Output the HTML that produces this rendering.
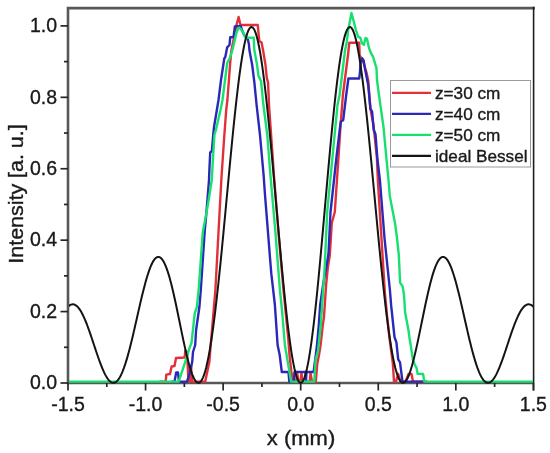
<!DOCTYPE html>
<html><head><meta charset="utf-8"><title>Intensity profile</title>
<style>
html,body{margin:0;padding:0;background:#fff;}
body{width:550px;height:453px;overflow:hidden;}
svg{display:block;font-family:"Liberation Sans",Arial,sans-serif;}
</style></head><body>
<svg width="550" height="453" viewBox="0 0 550 453">
<rect width="550" height="453" fill="#fff"/>
<path d="M68.0,383.0 V8.1 H533.6" fill="none" stroke="#575757" stroke-width="2.6" stroke-linecap="square"/><path d="M68.0,383.0 H533.6" fill="none" stroke="#575757" stroke-width="2.6"/><path d="M533.6,6.8 V390.5" fill="none" stroke="#1e1e1e" stroke-width="1.6"/><line x1="60.5" y1="383.00" x2="68.0" y2="383.00" stroke="#262626" stroke-width="1.7"/><text x="57" y="389.20" font-size="19.5" text-anchor="end" fill="#1a1a1a" stroke="#1a1a1a" stroke-width="0.35">0.0</text><line x1="64.0" y1="347.29" x2="68.0" y2="347.29" stroke="#262626" stroke-width="1.7"/><line x1="60.5" y1="311.58" x2="68.0" y2="311.58" stroke="#262626" stroke-width="1.7"/><text x="57" y="317.78" font-size="19.5" text-anchor="end" fill="#1a1a1a" stroke="#1a1a1a" stroke-width="0.35">0.2</text><line x1="64.0" y1="275.87" x2="68.0" y2="275.87" stroke="#262626" stroke-width="1.7"/><line x1="60.5" y1="240.16" x2="68.0" y2="240.16" stroke="#262626" stroke-width="1.7"/><text x="57" y="246.36" font-size="19.5" text-anchor="end" fill="#1a1a1a" stroke="#1a1a1a" stroke-width="0.35">0.4</text><line x1="64.0" y1="204.45" x2="68.0" y2="204.45" stroke="#262626" stroke-width="1.7"/><line x1="60.5" y1="168.74" x2="68.0" y2="168.74" stroke="#262626" stroke-width="1.7"/><text x="57" y="174.94" font-size="19.5" text-anchor="end" fill="#1a1a1a" stroke="#1a1a1a" stroke-width="0.35">0.6</text><line x1="64.0" y1="133.03" x2="68.0" y2="133.03" stroke="#262626" stroke-width="1.7"/><line x1="60.5" y1="97.32" x2="68.0" y2="97.32" stroke="#262626" stroke-width="1.7"/><text x="57" y="103.52" font-size="19.5" text-anchor="end" fill="#1a1a1a" stroke="#1a1a1a" stroke-width="0.35">0.8</text><line x1="64.0" y1="61.61" x2="68.0" y2="61.61" stroke="#262626" stroke-width="1.7"/><line x1="60.5" y1="25.90" x2="68.0" y2="25.90" stroke="#262626" stroke-width="1.7"/><text x="57" y="32.10" font-size="19.5" text-anchor="end" fill="#1a1a1a" stroke="#1a1a1a" stroke-width="0.35">1.0</text><line x1="68.00" y1="383.0" x2="68.00" y2="390.5" stroke="#262626" stroke-width="1.7"/><text x="68.00" y="411" font-size="19.5" text-anchor="middle" fill="#1a1a1a" stroke="#1a1a1a" stroke-width="0.35">-1.5</text><line x1="106.78" y1="383.0" x2="106.78" y2="387.0" stroke="#262626" stroke-width="1.7"/><line x1="145.57" y1="383.0" x2="145.57" y2="390.5" stroke="#262626" stroke-width="1.7"/><text x="145.57" y="411" font-size="19.5" text-anchor="middle" fill="#1a1a1a" stroke="#1a1a1a" stroke-width="0.35">-1.0</text><line x1="184.35" y1="383.0" x2="184.35" y2="387.0" stroke="#262626" stroke-width="1.7"/><line x1="223.13" y1="383.0" x2="223.13" y2="390.5" stroke="#262626" stroke-width="1.7"/><text x="223.13" y="411" font-size="19.5" text-anchor="middle" fill="#1a1a1a" stroke="#1a1a1a" stroke-width="0.35">-0.5</text><line x1="261.92" y1="383.0" x2="261.92" y2="387.0" stroke="#262626" stroke-width="1.7"/><line x1="300.70" y1="383.0" x2="300.70" y2="390.5" stroke="#262626" stroke-width="1.7"/><text x="300.70" y="411" font-size="19.5" text-anchor="middle" fill="#1a1a1a" stroke="#1a1a1a" stroke-width="0.35">0.0</text><line x1="339.48" y1="383.0" x2="339.48" y2="387.0" stroke="#262626" stroke-width="1.7"/><line x1="378.27" y1="383.0" x2="378.27" y2="390.5" stroke="#262626" stroke-width="1.7"/><text x="378.27" y="411" font-size="19.5" text-anchor="middle" fill="#1a1a1a" stroke="#1a1a1a" stroke-width="0.35">0.5</text><line x1="417.05" y1="383.0" x2="417.05" y2="387.0" stroke="#262626" stroke-width="1.7"/><line x1="455.83" y1="383.0" x2="455.83" y2="390.5" stroke="#262626" stroke-width="1.7"/><text x="455.83" y="411" font-size="19.5" text-anchor="middle" fill="#1a1a1a" stroke="#1a1a1a" stroke-width="0.35">1.0</text><line x1="494.62" y1="383.0" x2="494.62" y2="387.0" stroke="#262626" stroke-width="1.7"/><line x1="533.40" y1="383.0" x2="533.40" y2="390.5" stroke="#262626" stroke-width="1.7"/><text x="533.40" y="411" font-size="19.5" text-anchor="middle" fill="#1a1a1a" stroke="#1a1a1a" stroke-width="0.35">1.5</text><defs><clipPath id="c"><rect x="69.0" y="9.1" width="463.9" height="375.9"/></clipPath></defs><g clip-path="url(#c)" fill="none" stroke-linejoin="round" stroke-linecap="round"><polyline points="160,381.6 165.7,381.6 166.3,374.6 170,374 171.6,366.5 174.5,366 176,358 184.6,357.5 185.3,350.5 187,352 188.5,381.6 190,381.6 191,366 192.2,381.6 205.2,381.6 209.4,361.7 210.7,345 215.4,290 218.5,232 221.5,177 224,140 226.2,110 227.4,100 230.2,63 231.2,51.6 233.5,40 236.5,25 238.6,17 240.5,25 257.8,25 258.5,33 259.3,41 261.6,42.6 263.2,51 265.5,65 266.8,78.2 268.1,82.7 269,105 274,176 278.5,233 283.3,288 288.2,338 289.5,355 291.4,372 293,381.6 296.3,381.6 297,372 298.5,381.6 300.5,381.6 301.5,373 302.5,381.6 309.8,381.6 310.5,373 312,381.6 315.8,381.6 317.3,363.4 319,355 320.6,345 322.8,325 324,316.8 326.1,284.9 327.9,267 329.8,255 331.8,223 334.8,212 338.5,157 340.6,125 342.9,95 348,55 349.3,42.8 359.2,42.8 359.6,55 363.6,63 366.6,72.9 368.2,80.2 370.4,108.7 373.5,125 376.9,158 378,183 381.4,237 384.8,292 387,315 389.5,338 392.8,363 394,381.6 396,381.6 398.2,374 400.5,381.6 405.5,381.6 408.5,374 411.5,374 413,381.6 426,381.6" stroke="#e2303a" stroke-width="2.4"/><polyline points="172,381.6 174.5,381.6 176.2,372.5 178,372.5 179,381.6 187,381.6 190,372 192.2,362 193,352 195.2,345 196.1,330 199.4,307 200.8,290 204.8,230 205.8,220 209,180 209.3,172 210.2,152.5 211.9,151 213.2,135 214.1,126.5 218.5,100 221,80 223.3,65 224.3,58.5 225.3,57 226.6,50.2 227.2,47.3 229.5,45 230.2,37.3 233.5,37 234.9,26.5 240.7,26 242.2,30.6 244.2,35.2 247.8,39.2 248.9,44 249.4,50 252.2,65 254.4,82.7 256.6,105 260,135 263.6,175 264.9,193.5 268.2,235 269.9,256.5 271.3,273.7 273.2,290 274.9,305 277.6,345 279.7,355 281.8,372 288.5,372 289.3,381.6 293.8,381.6 294.5,372 305.5,372 306,381.6 306.5,372 313.6,372 316.8,347 318.8,325 320.2,304.7 323.5,282.2 326.5,266 328.5,253.7 330.5,212 336.5,157 340.3,125 340.9,121.5 343.2,120.2 346.2,95 348.4,78.5 359.3,78.5 360,71.6 360.6,62.3 362.3,58.3 363.6,60.3 364.9,68.2 366.6,76.9 368.2,85 370.4,108.7 372.1,111.5 373.7,130 375.5,134.3 377.5,160 379.9,180 384.5,238 389.9,290 391.2,305.9 394.5,337 396.4,342.3 398.2,359.3 400,362.3 402.5,381.6 426,381.6" stroke="#2a28b8" stroke-width="2.4"/><polyline points="68,381.6 178.7,381.6 185,362.6 189.5,348 191.5,343 194.8,313 196.8,307.5 198.8,288 202.8,232 207,210 211.8,180 212.6,165 213.6,148 214.4,135 215.9,130 220.5,110 222.5,100 227.2,63 229.5,58.5 230.2,57 232.9,48.2 236.3,33.2 238.2,28.6 239.2,27.6 240.9,29.2 242.5,31.2 244.9,35.9 245.5,37.5 253.8,37.7 254.3,50 257.1,65 258.4,75.6 261,80.9 263.4,105 267.3,135 270.4,175 275.4,232 279.9,290 282,310 284.9,345 290,375 291,381.6 314.3,381.6 315.6,359.3 318,350.8 320.8,325 322.2,304.7 324.8,265 327.2,212 332.5,157 337.5,105 339.6,95 345.1,50 346.6,43.3 348.2,30 349.9,21.2 351.5,13 353.7,21.2 355.9,30 358.1,36.7 360.4,37.8 362,43.3 363.8,45 365.5,38 367,38.9 369,48 371,53.2 373.2,57.1 374.5,61.6 375.5,64.9 376.5,68.2 377,80 379.2,96.6 383.5,127 386.1,155 388.5,180 389.8,195.9 395.1,223.7 397,238 398.8,254.9 400.1,282.7 402.7,286.7 404,295 405.1,312.5 408.4,329.7 409.5,338 411,347 412.8,359.3 414.6,364.2 416.5,367.8 417.7,373.9 423.1,374 424.3,381.6 533.4,381.6" stroke="#18e070" stroke-width="2.4"/><polyline points="68.00,306.74 68.78,306.02 69.55,305.42 70.33,304.95 71.10,304.61 71.88,304.39 72.65,304.31 73.43,304.35 74.21,304.53 74.98,304.84 75.76,305.27 76.53,305.84 77.31,306.53 78.08,307.35 78.86,308.30 79.63,309.36 80.41,310.54 81.19,311.84 81.96,313.24 82.74,314.75 83.51,316.36 84.29,318.07 85.06,319.87 85.84,321.75 86.62,323.71 87.39,325.74 88.17,327.83 88.94,329.99 89.72,332.19 90.49,334.44 91.27,336.72 92.05,339.03 92.82,341.36 93.60,343.71 94.37,346.05 95.15,348.39 95.92,350.72 96.70,353.03 97.48,355.30 98.25,357.54 99.03,359.73 99.80,361.86 100.58,363.94 101.35,365.94 102.13,367.86 102.91,369.70 103.68,371.44 104.46,373.08 105.23,374.62 106.01,376.04 106.78,377.34 107.56,378.51 108.33,379.55 109.11,380.46 109.89,381.22 110.66,381.84 111.44,382.31 112.21,382.62 112.99,382.78 113.76,382.78 114.54,382.62 115.32,382.30 116.09,381.81 116.87,381.16 117.64,380.35 118.42,379.37 119.19,378.23 119.97,376.94 120.75,375.48 121.52,373.87 122.30,372.11 123.07,370.20 123.85,368.14 124.62,365.95 125.40,363.62 126.17,361.16 126.95,358.59 127.73,355.89 128.50,353.09 129.28,350.19 130.05,347.19 130.83,344.11 131.60,340.95 132.38,337.73 133.16,334.44 133.93,331.11 134.71,327.74 135.48,324.34 136.26,320.92 137.03,317.49 137.81,314.06 138.59,310.64 139.36,307.25 140.14,303.88 140.91,300.56 141.69,297.29 142.46,294.09 143.24,290.95 144.02,287.90 144.79,284.95 145.57,282.09 146.34,279.35 147.12,276.73 147.89,274.24 148.67,271.89 149.44,269.68 150.22,267.63 151.00,265.74 151.77,264.02 152.55,262.47 153.32,261.10 154.10,259.92 154.87,258.92 155.65,258.12 156.43,257.52 157.20,257.12 157.98,256.92 158.75,256.93 159.53,257.14 160.30,257.55 161.08,258.18 161.86,259.00 162.63,260.03 163.41,261.26 164.18,262.69 164.96,264.31 165.73,266.12 166.51,268.12 167.29,270.29 168.06,272.64 168.84,275.15 169.61,277.82 170.39,280.65 171.16,283.61 171.94,286.70 172.71,289.92 173.49,293.25 174.27,296.68 175.04,300.20 175.82,303.80 176.59,307.46 177.37,311.18 178.14,314.94 178.92,318.73 179.70,322.53 180.47,326.33 181.25,330.12 182.02,333.89 182.80,337.61 183.57,341.28 184.35,344.88 185.13,348.40 185.90,351.82 186.68,355.13 187.45,358.31 188.23,361.36 189.00,364.25 189.78,366.98 190.56,369.54 191.33,371.90 192.11,374.06 192.88,376.01 193.66,377.73 194.43,379.22 195.21,380.47 195.99,381.45 196.76,382.18 197.54,382.63 198.31,382.80 199.09,382.68 199.86,382.27 200.64,381.57 201.41,380.55 202.19,379.23 202.97,377.61 203.74,375.66 204.52,373.41 205.29,370.83 206.07,367.95 206.84,364.75 207.62,361.24 208.40,357.41 209.17,353.29 209.95,348.86 210.72,344.14 211.50,339.13 212.27,333.84 213.05,328.27 213.83,322.44 214.60,316.36 215.38,310.03 216.15,303.46 216.93,296.68 217.70,289.68 218.48,282.49 219.25,275.12 220.03,267.59 220.81,259.90 221.58,252.07 222.36,244.12 223.13,236.07 223.91,227.94 224.68,219.74 225.46,211.48 226.24,203.20 227.01,194.90 227.79,186.60 228.56,178.33 229.34,170.10 230.11,161.93 230.89,153.85 231.67,145.86 232.44,137.99 233.22,130.26 233.99,122.68 234.77,115.28 235.54,108.07 236.32,101.06 237.10,94.29 237.87,87.75 238.65,81.48 239.42,75.48 240.20,69.77 240.97,64.37 241.75,59.28 242.52,54.53 243.30,50.12 244.08,46.06 244.85,42.38 245.63,39.07 246.40,36.14 247.18,33.61 247.95,31.48 248.73,29.76 249.51,28.45 250.28,27.55 251.06,27.08 251.83,27.03 252.61,27.40 253.38,28.20 254.16,29.42 254.94,31.06 255.71,33.12 256.49,35.59 257.26,38.47 258.04,41.76 258.81,45.44 259.59,49.50 260.37,53.95 261.14,58.76 261.92,63.93 262.69,69.45 263.47,75.30 264.24,81.46 265.02,87.93 265.79,94.69 266.57,101.72 267.35,109.01 268.12,116.53 268.90,124.28 269.67,132.22 270.45,140.35 271.22,148.64 272.00,157.07 272.78,165.62 273.55,174.27 274.33,183.00 275.10,191.79 275.88,200.61 276.65,209.45 277.43,218.28 278.21,227.08 278.98,235.82 279.76,244.49 280.53,253.07 281.31,261.53 282.08,269.85 282.86,278.01 283.64,285.99 284.41,293.78 285.19,301.34 285.96,308.67 286.74,315.74 287.51,322.53 288.29,329.04 289.06,335.24 289.84,341.11 290.62,346.65 291.39,351.83 292.17,356.65 292.94,361.09 293.72,365.15 294.49,368.80 295.27,372.05 296.05,374.88 296.82,377.29 297.60,379.26 298.37,380.81 299.15,381.91 299.92,382.58 300.70,382.80 301.48,382.58 302.25,381.91 303.03,380.81 303.80,379.26 304.58,377.29 305.35,374.88 306.13,372.05 306.91,368.80 307.68,365.15 308.46,361.09 309.23,356.65 310.01,351.83 310.78,346.65 311.56,341.11 312.34,335.24 313.11,329.04 313.89,322.53 314.66,315.74 315.44,308.67 316.21,301.34 316.99,293.78 317.76,285.99 318.54,278.01 319.32,269.85 320.09,261.53 320.87,253.07 321.64,244.49 322.42,235.82 323.19,227.08 323.97,218.28 324.75,209.45 325.52,200.61 326.30,191.79 327.07,183.00 327.85,174.27 328.62,165.62 329.40,157.07 330.18,148.64 330.95,140.35 331.73,132.22 332.50,124.28 333.28,116.53 334.05,109.01 334.83,101.72 335.61,94.69 336.38,87.93 337.16,81.46 337.93,75.30 338.71,69.45 339.48,63.93 340.26,58.76 341.03,53.95 341.81,49.50 342.59,45.44 343.36,41.76 344.14,38.47 344.91,35.59 345.69,33.12 346.46,31.06 347.24,29.42 348.02,28.20 348.79,27.40 349.57,27.03 350.34,27.08 351.12,27.55 351.89,28.45 352.67,29.76 353.45,31.48 354.22,33.61 355.00,36.14 355.77,39.07 356.55,42.38 357.32,46.06 358.10,50.12 358.88,54.53 359.65,59.28 360.43,64.37 361.20,69.77 361.98,75.48 362.75,81.48 363.53,87.75 364.30,94.29 365.08,101.06 365.86,108.07 366.63,115.28 367.41,122.68 368.18,130.26 368.96,137.99 369.73,145.86 370.51,153.85 371.29,161.93 372.06,170.10 372.84,178.33 373.61,186.60 374.39,194.90 375.16,203.20 375.94,211.48 376.72,219.74 377.49,227.94 378.27,236.07 379.04,244.12 379.82,252.07 380.59,259.90 381.37,267.59 382.14,275.12 382.92,282.49 383.70,289.68 384.47,296.68 385.25,303.46 386.02,310.03 386.80,316.36 387.57,322.44 388.35,328.27 389.13,333.84 389.90,339.13 390.68,344.14 391.45,348.86 392.23,353.29 393.00,357.41 393.78,361.24 394.56,364.75 395.33,367.95 396.11,370.83 396.88,373.41 397.66,375.66 398.43,377.61 399.21,379.23 399.99,380.55 400.76,381.57 401.54,382.27 402.31,382.68 403.09,382.80 403.86,382.63 404.64,382.18 405.42,381.45 406.19,380.47 406.97,379.22 407.74,377.73 408.52,376.01 409.29,374.06 410.07,371.90 410.84,369.54 411.62,366.98 412.40,364.25 413.17,361.36 413.95,358.31 414.72,355.13 415.50,351.82 416.27,348.40 417.05,344.88 417.83,341.28 418.60,337.61 419.38,333.89 420.15,330.12 420.93,326.33 421.70,322.53 422.48,318.73 423.26,314.94 424.03,311.18 424.81,307.46 425.58,303.80 426.36,300.20 427.13,296.68 427.91,293.25 428.69,289.92 429.46,286.70 430.24,283.61 431.01,280.65 431.79,277.82 432.56,275.15 433.34,272.64 434.11,270.29 434.89,268.12 435.67,266.12 436.44,264.31 437.22,262.69 437.99,261.26 438.77,260.03 439.54,259.00 440.32,258.18 441.10,257.55 441.87,257.14 442.65,256.93 443.42,256.92 444.20,257.12 444.97,257.52 445.75,258.12 446.53,258.92 447.30,259.92 448.08,261.10 448.85,262.47 449.63,264.02 450.40,265.74 451.18,267.63 451.95,269.68 452.73,271.89 453.51,274.24 454.28,276.73 455.06,279.35 455.83,282.09 456.61,284.95 457.38,287.90 458.16,290.95 458.94,294.09 459.71,297.29 460.49,300.56 461.26,303.88 462.04,307.25 462.81,310.64 463.59,314.06 464.37,317.49 465.14,320.92 465.92,324.34 466.69,327.74 467.47,331.11 468.24,334.44 469.02,337.73 469.80,340.95 470.57,344.11 471.35,347.19 472.12,350.19 472.90,353.09 473.67,355.89 474.45,358.59 475.22,361.16 476.00,363.62 476.78,365.95 477.55,368.14 478.33,370.20 479.10,372.11 479.88,373.87 480.65,375.48 481.43,376.94 482.21,378.23 482.98,379.37 483.76,380.35 484.53,381.16 485.31,381.81 486.08,382.30 486.86,382.62 487.64,382.78 488.41,382.78 489.19,382.62 489.96,382.31 490.74,381.84 491.51,381.22 492.29,380.46 493.07,379.55 493.84,378.51 494.62,377.34 495.39,376.04 496.17,374.62 496.94,373.08 497.72,371.44 498.49,369.70 499.27,367.86 500.05,365.94 500.82,363.94 501.60,361.86 502.37,359.73 503.15,357.54 503.92,355.30 504.70,353.03 505.48,350.72 506.25,348.39 507.03,346.05 507.80,343.71 508.58,341.36 509.35,339.03 510.13,336.72 510.91,334.44 511.68,332.19 512.46,329.99 513.23,327.83 514.01,325.74 514.78,323.71 515.56,321.75 516.34,319.87 517.11,318.07 517.89,316.36 518.66,314.75 519.44,313.24 520.21,311.84 520.99,310.54 521.77,309.36 522.54,308.30 523.32,307.35 524.09,306.53 524.87,305.84 525.64,305.27 526.42,304.84 527.19,304.53 527.97,304.35 528.75,304.31 529.52,304.39 530.30,304.61 531.07,304.95 531.85,305.42 532.62,306.02 533.40,306.74" stroke="#141414" stroke-width="2.0"/></g><text transform="translate(301,445) scale(1.1,1)" font-size="20" text-anchor="middle" fill="#1a1a1a" stroke="#1a1a1a" stroke-width="0.35">x (mm)</text><text transform="translate(22.8,194) rotate(-90) scale(1.1,1)" font-size="19.5" text-anchor="middle" fill="#1a1a1a" stroke="#1a1a1a" stroke-width="0.35">Intensity [a. u.]</text><rect x="390.5" y="80.5" width="140" height="86.5" fill="#fff" stroke="#9a9a9a" stroke-width="1"/><line x1="392" y1="92.90" x2="431" y2="92.90" stroke="#e2303a" stroke-width="2.4"/><text transform="translate(435,98.70) scale(1.04,1)" font-size="16.5" fill="#1a1a1a" stroke="#1a1a1a" stroke-width="0.35">z=30 cm</text><line x1="392" y1="113.90" x2="431" y2="113.90" stroke="#2a28b8" stroke-width="2.4"/><text transform="translate(435,119.70) scale(1.04,1)" font-size="16.5" fill="#1a1a1a" stroke="#1a1a1a" stroke-width="0.35">z=40 cm</text><line x1="392" y1="134.90" x2="431" y2="134.90" stroke="#18e070" stroke-width="2.4"/><text transform="translate(435,140.70) scale(1.04,1)" font-size="16.5" fill="#1a1a1a" stroke="#1a1a1a" stroke-width="0.35">z=50 cm</text><line x1="392" y1="155.90" x2="431" y2="155.90" stroke="#141414" stroke-width="2.4"/><text transform="translate(435,161.70) scale(1.04,1)" font-size="16.5" fill="#1a1a1a" stroke="#1a1a1a" stroke-width="0.35">ideal Bessel</text></svg>
</body></html>
